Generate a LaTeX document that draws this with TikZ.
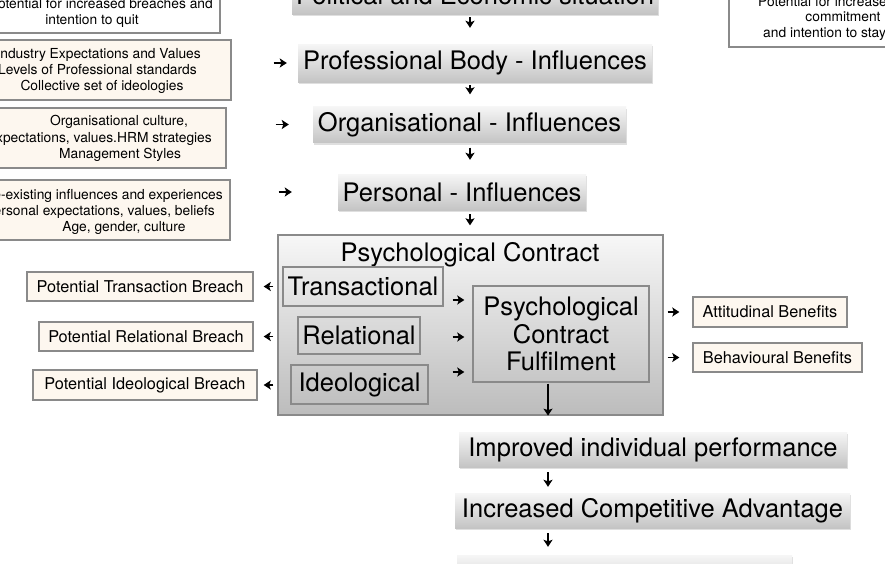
\documentclass[tikz,border=0pt]{standalone}
\usepackage{fontspec}
\setmainfont{TeX Gyre Heros}
\usetikzlibrary{shadows,arrows.meta,calc}
\definecolor{cream}{HTML}{FDF7EF}
\definecolor{bord}{HTML}{8A8A8A}
\definecolor{gbtop}{HTML}{F6F6F6}
\definecolor{gbbot}{HTML}{C4C4C4}
\definecolor{pstop}{HTML}{F7F7F7}
\definecolor{psbot}{HTML}{BCBCBC}
\begin{document}
\begin{tikzpicture}[x=1pt,y=-1pt,
  big/.style={font=\fontsize{25.5}{27.5}\selectfont},
  gbox/.style={big, shading=axis, top color=gbtop, bottom color=gbbot, inner sep=0pt,
    drop shadow={shadow xshift=0.6pt, shadow yshift=-2pt, opacity=0.25}},
  inbox/.style={big, draw=bord, line width=1.4pt, inner sep=0pt},
  cbox/.style={draw=bord, line width=1.4pt, fill=cream, inner sep=0pt},
  wbox/.style={draw=bord, line width=1.4pt, fill=white, inner sep=0pt},
  small/.style={font=\fontsize{16.3}{18}\selectfont},
  tiny/.style={font=\fontsize{13.8}{16}\selectfont, inner sep=0pt, text height=10pt, text depth=2.7pt},
  arr/.style={-{Stealth[length=7pt,width=9pt,inset=1.5pt]}, line width=1.8pt}]
\useasboundingbox (0,0) rectangle (885,563);
\clip (0,0) rectangle (885,563);
\fill[white] (0,0) rectangle (885,563);
\coordinate (vx) at (470,0);
\coordinate (ax) at (548,0);

% left context boxes
\node[wbox, minimum width=256pt, minimum height=40pt] (b1) at (92,13) {};
\node[tiny, anchor=east] (b1a) at (213,5) {Potential for increased breaches and};
\node[tiny] (b1b) at (92,21) {intention to quit};

\node[cbox, minimum width=271pt, minimum height=60pt] (b2) at (95.5,70) {};
\node[tiny, anchor=east] (b2a) at (201,55) {Industry Expectations and Values};
\node[tiny, anchor=east] (b2b) at (197,71) {Levels of Professional standards};
\node[tiny] (b2c) at (102,87) {Collective set of ideologies};

\node[cbox, minimum width=266pt, minimum height=60pt] (b3) at (93,138) {};
\node[tiny] (b3a) at (119,122) {Organisational culture,};
\node[tiny, anchor=east] (b3b) at (212,139) {expectations, values.HRM strategies};
\node[tiny] (b3c) at (120,155) {Management Styles};

\node[cbox, minimum width=270pt, minimum height=60pt] (b4) at (95,210) {};
\node[tiny, anchor=east] (b4a) at (223,196) {Pre-existing influences and experiences};
\node[tiny, anchor=east] (b4b) at (215,212) {Personal expectations, values, beliefs};
\node[tiny] (b4c) at (124,228) {Age, gender, culture};

% right top box
\node[wbox, minimum width=228pt, minimum height=57pt] (rt) at (843,18.5) {};
\node[tiny, anchor=west] (rta) at (758,3) {Potential for increased};
\node[tiny] (rtb) at (843,18) {commitment};
\node[tiny, anchor=west] (rtc) at (763,34) {and intention to stay};

% main column
\node[gbox, minimum width=366pt, minimum height=37pt] (pol) at (475,-4.5) {Political and Economic situation};
\node[gbox, minimum width=354pt, minimum height=38pt] (prof) at (475,63) {Professional Body - Influences};
\node[gbox, minimum width=313pt, minimum height=36pt] (org) at (469.5,124.5) {Organisational - Influences};
\node[gbox, minimum width=248pt, minimum height=36pt] (pers) at (462,192) {Personal - Influences};

% psychological contract
\node[draw=bord, line width=1.3pt, shading=axis, top color=pstop, bottom color=psbot,
  minimum width=385pt, minimum height=180pt, inner sep=0pt] (psych) at (470.5,325) {};
\node[big, inner sep=0pt] (pct) at (470,255) {Psychological Contract};
\node[inbox, minimum width=160pt, minimum height=39pt] (trans) at (363,286.5) {Transactional};
\node[inbox, minimum width=122pt, minimum height=37pt] (rel) at (359,335.5) {Relational};
\node[inbox, minimum width=137pt, minimum height=39pt] (ideo) at (359.5,384.5) {Ideological};
\node[inbox, align=center, minimum width=176pt, minimum height=96pt] (fulf) at (561,334) {Psychological\\Contract\\Fulfilment};

% breaches
\node[cbox, small, minimum width=226pt, minimum height=29pt] (tb) at (140,286.5) {Potential Transaction Breach};
\node[cbox, small, minimum width=214pt, minimum height=29pt] (rb) at (146,336.5) {Potential Relational Breach};
\node[cbox, small, minimum width=224pt, minimum height=30pt] (ib) at (145,385) {Potential Ideological Breach};

% benefits
\node[cbox, small, minimum width=154pt, minimum height=30pt] (att) at (770,312) {Attitudinal Benefits};
\node[cbox, small, minimum width=169pt, minimum height=29pt] (beh) at (777.5,357.5) {Behavioural Benefits};

% outcomes
\node[gbox, minimum width=388pt, minimum height=35pt] (imp) at (653,449.5) {Improved individual performance};
\node[gbox, minimum width=395pt, minimum height=35pt] (inc) at (652.5,510.5) {Increased Competitive Advantage};
\node[gbox, minimum width=335pt, minimum height=40pt] (bot) at (624.5,575) {};

% arrows
\draw[arr, shorten <=3pt, shorten >=16pt] (pol.south -| vx) -- (prof.north -| vx);
\draw[arr, shorten <=3pt, shorten >=12pt] (prof.south -| vx) -- (org.north -| vx);
\draw[arr, shorten <=5pt, shorten >=14pt] (org.south -| vx) -- (pers.north -| vx);
\draw[arr, shorten <=4pt, shorten >=9pt] (pers.south -| vx) -- (psych.north -| vx);
\draw[arr, shorten <=42pt, shorten >=11pt] (b2.east |- prof) -- (prof.west);
\draw[arr, shorten <=49pt, shorten >=24pt] (b3.east |- org) -- (org.west);
\draw[arr, shorten <=48pt, shorten >=46pt] (b4.east |- pers) -- (pers.west);

\draw[arr, shorten <=9pt, shorten >=8pt] ([yshift=34pt]fulf.west -| trans.east) -- ([yshift=34pt]fulf.west);
\draw[arr, shorten <=32pt, shorten >=8pt] ([yshift=-3pt]fulf.west -| rel.east) -- ([yshift=-3pt]fulf.west);
\draw[arr, shorten <=24pt, shorten >=8pt] ([yshift=-38pt]fulf.west -| ideo.east) -- ([yshift=-38pt]fulf.west);
\draw[arr, shorten <=1pt] (fulf.south -| ax) -- (psych.south -| ax);
\draw[arr, shorten <=18pt, shorten >=13pt] (fulf.east |- att) -- (att.west);
\draw[arr, shorten <=18pt, shorten >=13pt] (fulf.east |- beh) -- (beh.west);

\draw[arr, shorten <=4pt, shorten >=10pt] (psych.west |- tb) -- (tb.east);
\draw[arr, shorten <=4pt, shorten >=10pt] (psych.west |- rb) -- (rb.east);
\draw[arr, shorten <=4pt, shorten >=6pt] (psych.west |- ib) -- (ib.east);

\draw[arr, shorten <=5pt, shorten >=6pt] (imp.south -| ax) -- (inc.north -| ax);
\draw[arr, shorten <=5pt, shorten >=8pt] (inc.south -| ax) -- (bot.north -| ax);
\end{tikzpicture}
\end{document}
